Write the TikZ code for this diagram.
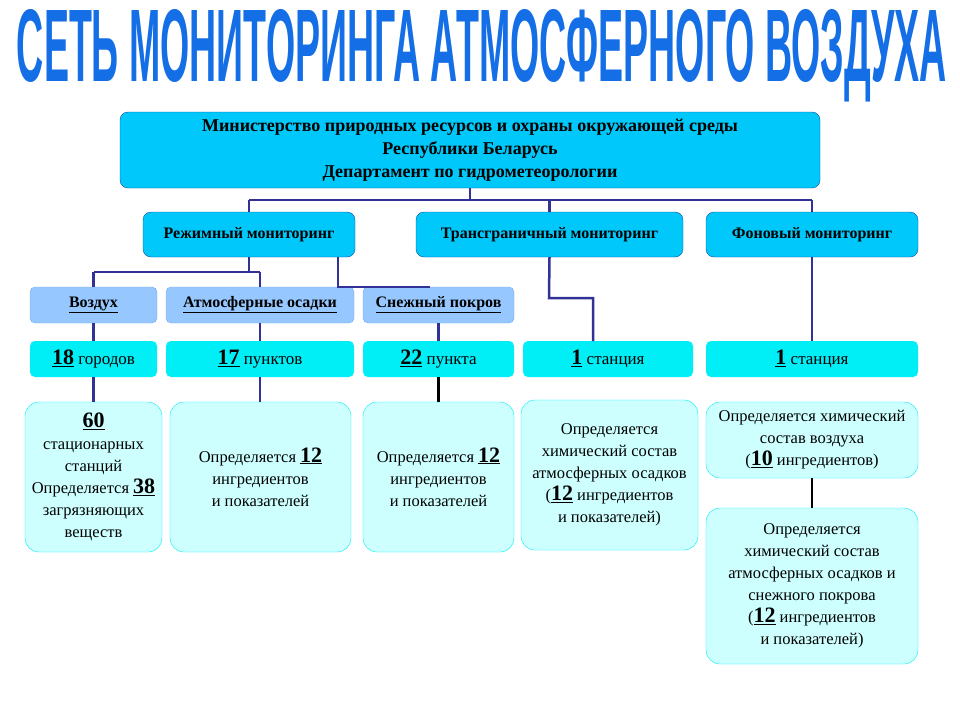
\documentclass[tikz,border=0pt]{standalone}
\usepackage{graphicx}
\usepackage{fontspec}
\setmainfont{Liberation Serif}
\setsansfont{Liberation Sans}
\usetikzlibrary{positioning}
\definecolor{deep}{RGB}{0,200,250}
\definecolor{sub}{RGB}{150,200,255}
\definecolor{cnt}{RGB}{0,238,245}
\definecolor{pale}{RGB}{205,255,255}
\definecolor{linkc}{RGB}{50,50,150}
\definecolor{ttl}{RGB}{20,110,230}
\newcommand{\nm}[1]{\underline{\textbf{\fontsize{22}{24}\selectfont #1}}}

\begin{document}
\begin{tikzpicture}[x=1pt, y=-1pt,
    topbox/.style={draw=ttl!70!black, fill=deep, rounded corners=8pt, font=\bfseries\fontsize{18}{23}\selectfont, align=center},
    subbox/.style={draw=ttl!60, fill=sub, rounded corners=5pt, minimum height=36pt, font=\bfseries\fontsize{16}{18}\selectfont, inner sep=1pt},
    cntbox/.style={fill=cnt, rounded corners=5pt, minimum height=36pt, font=\fontsize{17}{19}\selectfont},
    infobox/.style={draw=cnt, fill=pale, rounded corners=14pt, align=center, font=\fontsize{16.5}{22}\selectfont, inner sep=0pt},
    conn/.style={draw=linkc, line width=2.5pt}]
    \useasboundingbox (0,0) rectangle (960,720);
    \node[text=ttl, font=\sffamily\bfseries] (title) at (482,56)
        {\resizebox{930pt}{72pt}{СЕТЬ МОНИТОРИНГА АТМОСФЕРНОГО ВОЗДУХА}};
    % top
    \node[topbox, minimum width=700pt, minimum height=76pt] (min) at (470,150)
        {Министерство природных ресурсов и охраны окружающей среды\\Республики Беларусь\\Департамент по гидрометеорологии};
    \node[topbox, minimum width=212pt, minimum height=45pt, font=\bfseries\fontsize{16}{18}\selectfont] (rezh) at (249,234.5) {Режимный мониторинг};
    \node[topbox, minimum width=267pt, minimum height=45pt, font=\bfseries\fontsize{16}{18}\selectfont] (trans) at (549.5,234.5) {Трансграничный мониторинг};
    \node[topbox, minimum width=212pt, minimum height=45pt, font=\bfseries\fontsize{16}{18}\selectfont] (fon) at (812,234.5) {Фоновый мониторинг};
    % media
    \node[subbox, minimum width=127pt] (vozd) at (93.5,305) {\underline{Воздух}};
    \node[subbox, minimum width=188pt] (atm) at (260,305) {\underline{Атмосферные осадки}};
    \node[subbox, minimum width=151pt] (snezh) at (438.5,305) {\underline{Снежный покров}};
    % counts
    \node[cntbox, minimum width=127pt] (c1) at (93.5,359) {\nm{18} городов};
    \node[cntbox, minimum width=188pt] (c2) at (260,359) {\nm{17} пунктов};
    \node[cntbox, minimum width=151pt] (c3) at (438.5,359) {\nm{22} пункта};
    \node[cntbox, minimum width=170pt] (c4) at (608,359) {\nm{1} станция};
    \node[cntbox, minimum width=212pt] (c5) at (812,359) {\nm{1} станция};
    % details
    \node[infobox, minimum width=137pt, minimum height=150pt] (d1) at (93.5,477)
        {\nm{60}\\стационарных\\станций\\Определяется \nm{38}\\загрязняющих\\веществ};
    \node[infobox, minimum width=181pt, minimum height=150pt] (d2) at (260.5,477)
        {Определяется \nm{12}\\ингредиентов\\и показателей};
    \node[infobox, minimum width=151pt, minimum height=150pt] (d3) at (438.5,477)
        {Определяется \nm{12}\\ингредиентов\\и показателей};
    \node[infobox, minimum width=177pt, minimum height=150pt] (d4) at (609.5,475)
        {Определяется\\химический состав\\атмосферных осадков\\(\nm{12} ингредиентов\\и показателей)};
    \node[infobox, minimum width=212pt, minimum height=76pt] (d5) at (812,440)
        {Определяется химический\\состав воздуха\\(\nm{10} ингредиентов)};
    \node[infobox, minimum width=212pt, minimum height=156pt] (d6) at (812,586)
        {Определяется\\химический состав\\атмосферных осадков и\\снежного покрова\\(\nm{12} ингредиентов\\и показателей)};
    % links
    \coordinate (hub) at (470,200);
    \draw[conn] (min.south) -- (hub) (rezh.north |- hub) -- (fon.north |- hub);
    \draw[conn] (rezh.north |- hub) -- (rezh.north) (trans.north |- hub) -- (trans.north) (fon.north |- hub) -- (fon.north);
    \draw[conn] (rezh.south) -- (249,272) (vozd.north |- 0,272) -- (atm.north |- 0,272);
    \draw[conn] (vozd.north |- 0,272) -- (vozd.north) (atm.north |- 0,272) -- (atm.north);
    \draw[conn] (338,257) -- (338,287) -- (430,287);
    \draw[conn] (trans.south) -- (549,298) -- (593,298) -- (593,341);
    \draw[conn] (fon.south) -- (c5.north);
    \foreach \a/\b in {vozd/c1, atm/c2, snezh/c3, c1/d1, c2/d2}
        \draw[conn] (\a.south) -- (\a.south |- \b.north);
    \draw[line width=2.5pt] (c3.south) -- (c3.south |- d3.north);
    \draw[line width=2.5pt] (d5.south) -- (d6.north);
\end{tikzpicture}
\end{document}
